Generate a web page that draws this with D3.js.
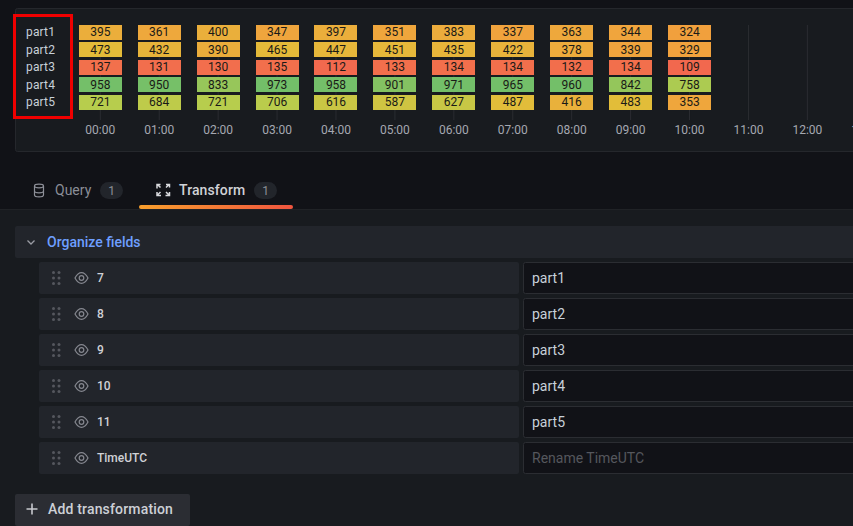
<!DOCTYPE html>
<html><head><meta charset="utf-8">
<script src="https://cdn.jsdelivr.net/npm/d3@7/dist/d3.min.js"></script>
<style>
html,body{margin:0;padding:0;background:#111217;overflow:hidden}
svg{display:block;font-family:Roboto,sans-serif}
text{font-family:Roboto,sans-serif}
</style></head><body><svg id="c" width="853" height="526"></svg>
<script>
const hours = ["00:00","01:00","02:00","03:00","04:00","05:00","06:00","07:00","08:00","09:00","10:00","11:00","12:00","13:00"];
const parts = ["part1","part2","part3","part4","part5"];
const part1 = [395,361,400,347,397,351,383,337,363,344,324];
const part2 = [473,432,390,465,447,451,435,422,378,339,329];
const part3 = [137,131,130,135,112,133,134,134,132,134,109];
const part4 = [958,950,833,973,958,901,971,965,960,842,758];
const part5 = [721,684,721,706,616,587,627,487,416,483,353];
const series = [part1,part2,part3,part4,part5];
const fields = ["7","8","9","10","11","TimeUTC"];
const renames = ["part1","part2","part3","part4","part5",""];

const svg = d3.select("#c");
const rect=(x,y,w,h,f,o={})=>svg.append("rect").attr("x",x).attr("y",y).attr("width",w).attr("height",h).attr("fill",f).attr("rx",o.r||0).attr("stroke",o.s||"none").attr("stroke-width",o.sw||1);
const text=(x,y,t,f,s,o={})=>svg.append("text").attr("x",x).attr("y",y).text(t).attr("fill",f).attr("font-size",s).attr("font-weight",o.w||400).attr("text-anchor",o.a||"start").attr("letter-spacing",o.ls||0);

// page
rect(0,0,853,526,"#111217");
rect(15.5,8.5,860,143,"#181b1f",{r:2,s:"#25272c"});
rect(0,209,853,317,"#181b1f");
svg.append("line").attr("x1",0).attr("x2",853).attr("y1",209.5).attr("y2",209.5).attr("stroke","#202226");

// chart
const x = d3.scaleLinear().domain([0,13]).range([99.8,865.8]);
const y = d3.scaleBand().domain(parts).range([25,110]).paddingInner(0.13).paddingOuter(0);
const color = d3.scaleLinear().domain([100,330,480,720,960])
  .range(["#f2664f","#f1a23d","#e3bd39","#b7cd4d","#73bf69"]).clamp(true);

const axis = d3.axisBottom(x).tickValues(d3.range(hours.length)).tickFormat(i=>hours[i]).tickSize(95).tickPadding(5);
const gx = svg.append("g").attr("transform","translate(0,25)").call(axis);
gx.select(".domain").remove();
gx.selectAll(".tick line").attr("stroke","#2a2c31");
gx.selectAll(".tick text").attr("fill","#a5a8b1").attr("font-size",12);

const cellW = 43;
parts.forEach((p,r)=>{
  const g = svg.append("g");
  g.selectAll("rect").data(series[r]).join("rect")
    .attr("x",(d,i)=>Math.round(x(i)+0.5-cellW/2)).attr("y",Math.round(y(p))).attr("width",cellW).attr("height",15)
    .attr("fill",d=>color(d));
  g.selectAll("text").data(series[r]).join("text")
    .attr("x",(d,i)=>x(i)+0.5).attr("y",y(p)+y.bandwidth()/2+3.6)
    .attr("text-anchor","middle").attr("font-size",12).attr("fill","#1a1a17").text(d=>d);
  text(26,y(p)+y.bandwidth()/2+3.6,p,"#c7d0d9",12,{ls:0.15});
});
svg.append("rect").attr("x",14.5).attr("y",15.5).attr("width",57).attr("height",102)
  .attr("fill","none").attr("stroke","#f00000").attr("stroke-width",3);

// tabs
const db = svg.append("g").attr("fill","none").attr("stroke","#8e9099").attr("stroke-width",1.2);
db.append("ellipse").attr("cx",39).attr("cy",186).attr("rx",4.5).attr("ry",1.8);
db.append("path").attr("d","M34.5 186v9c0 1 2 1.9 4.5 1.9s4.5-.9 4.5-1.9v-9M34.5 191c0 1 2 1.8 4.5 1.8s4.5-.8 4.5-1.8");
text(55,195,"Query","#8b8e97",14);
rect(100,182,23,17,"#22252b",{r:8.5});
text(111.5,195,"1","#8b8e97",12,{a:"middle"});
const tr = svg.append("g").attr("fill","none").attr("stroke","#d8d9dd").attr("stroke-width",1.5);
tr.append("path").attr("d","M157 188.5v-4h3.5M157.5 184.5l3 3M166 184.5h3.5v3M169 184.5l-3 3M157 192v3.5h4M157.5 195l3-3M169.5 192v3.5h-4M169 195l-3-3");
text(179,195,"Transform","#d0d1d6",14,{w:500,ls:0.1});
rect(254,182,23,17,"#22252b",{r:8.5});
text(265.5,195,"1","#8b8e97",12,{a:"middle"});
const grad = svg.append("defs").append("linearGradient").attr("id","tabg");
grad.append("stop").attr("offset",0).attr("stop-color","#f99f2c");
grad.append("stop").attr("offset",1).attr("stop-color","#f0553f");
rect(139,205,154,4,"url(#tabg)",{r:2});

// organize header
rect(15,226,860,32,"#22252b",{r:2});
svg.append("path").attr("d","M27.5 240.5l3.5 3.5 3.5-3.5").attr("fill","none").attr("stroke","#9a9ca4").attr("stroke-width",1.3);
text(47,247,"Organize fields","#6e9fff",14,{w:500});

// field rows
const rowY = d3.scaleLinear().domain([0,1]).range([262,298]);
fields.forEach((f,i)=>{
  const t = rowY(i);
  rect(39,t,480,32,"#22252b",{r:2});
  [0,1].forEach(c=>[0,1,2].forEach(k=>svg.append("circle").attr("cx",53.5+c*5.5).attr("cy",t+10.5+k*5.5).attr("r",1.5).attr("fill","#55575e")));
  const e = svg.append("g").attr("fill","none").attr("stroke","#85878f").attr("stroke-width",1.2);
  e.append("path").attr("d",`M75 ${t+16}c2-3.7 4-5.3 6.5-5.3s4.5 1.6 6.5 5.3c-2 3.7-4 5.3-6.5 5.3s-4.5-1.6-6.5-5.3z`);
  e.append("circle").attr("cx",81.5).attr("cy",t+16).attr("r",2.3);
  text(97,t+20,f,"#d0d1d6",12,{w:500});
  rect(523.5,t+0.5,340,31,"#111217",{r:2,s:"#2b2d32"});
  if(renames[i]) text(532,t+21,renames[i],"#c7d0d9",14);
  else text(532,t+21,"Rename "+f,"#55575d",14);
});

// add button
rect(15,494,175,32,"#2b2d33",{r:2});
svg.append("path").attr("d","M32 503.5v11M26.5 509h11").attr("stroke","#c7c9ce").attr("stroke-width",1.6);
text(48,514,"Add transformation","#cdd0d6",14,{w:500,ls:0.17});
</script></body></html>
